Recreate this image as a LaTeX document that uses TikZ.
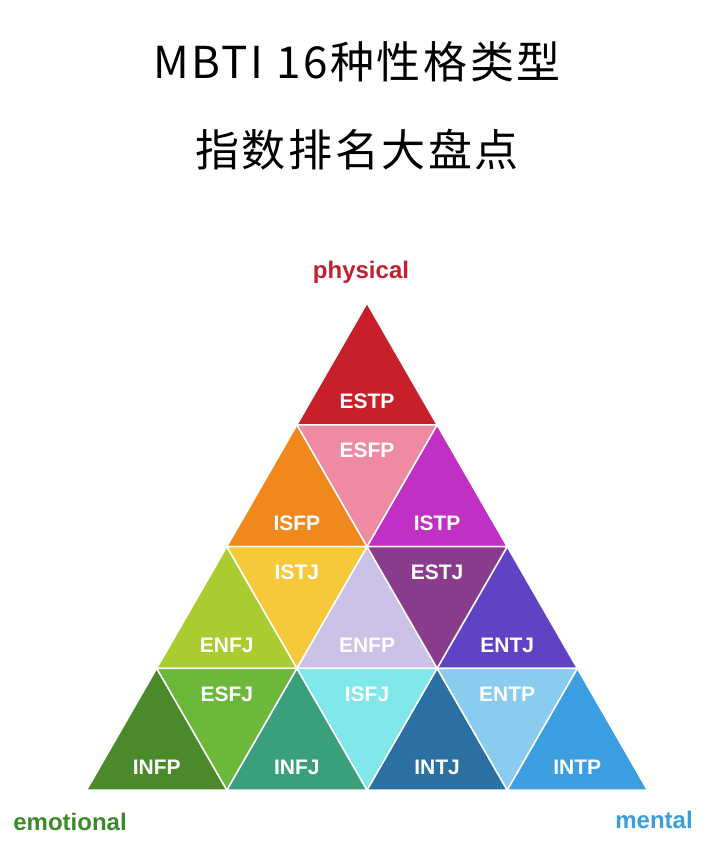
\documentclass[tikz,border=0pt]{standalone}
\usepackage{fontspec}
\setmainfont{Liberation Sans}
\newfontfamily\cjk[LetterSpace=6]{Noto Sans CJK SC}
\usepackage{tikz}
\usetikzlibrary{calc}

\definecolor{cESTP}{HTML}{C8202A}
\definecolor{cESFP}{HTML}{EE8AA2}
\definecolor{cISFP}{HTML}{F0881C}
\definecolor{cISTP}{HTML}{C030C4}
\definecolor{cENFJ}{HTML}{AACC30}
\definecolor{cISTJ}{HTML}{F6C93A}
\definecolor{cENFP}{HTML}{CCC2E8}
\definecolor{cESTJ}{HTML}{8A3C8C}
\definecolor{cENTJ}{HTML}{6042C4}
\definecolor{cINFP}{HTML}{4A8A2A}
\definecolor{cESFJ}{HTML}{6CB83A}
\definecolor{cINFJ}{HTML}{3AA07C}
\definecolor{cISFJ}{HTML}{80E8EA}
\definecolor{cINTJ}{HTML}{2A70A2}
\definecolor{cENTP}{HTML}{8ACCF0}
\definecolor{cINTP}{HTML}{3A9EE0}
\definecolor{cPhys}{HTML}{C02030}
\definecolor{cEmo}{HTML}{3A8A2A}
\definecolor{cMent}{HTML}{3A9ED8}

\begin{document}
\begin{tikzpicture}[x=1pt, y=-1pt,
  cell/.style={draw=white, line width=1.5pt, line join=round},
  tag/.style={text=white, font=\bfseries\fontsize{21}{21}\selectfont},
  corner/.style={font=\bfseries\fontsize{24}{24}\selectfont},
  title/.style={font=\cjk\fontsize{44}{44}\selectfont}
]
  \useasboundingbox (0,0) rectangle (720,853);
  \fill[white] (0,0) rectangle (720,853);

  \node[title] (title1) at (357,62) {MBTI 16种性格类型};
  \node[title] (title2) at (357,150) {指数排名大盘点};

  % grid of vertices
  \foreach \r in {0,...,4}
    \foreach \j in {0,...,\r}
      \coordinate (v-\r-\j) at ({367+(2*\j-\r)*70.1}, {303+\r*121.75});

  % upward cells: row/pos/name
  \foreach \r/\j/\name in {1/0/ESTP, 2/0/ISFP, 2/1/ISTP, 3/0/ENFJ, 3/1/ENFP,
      3/2/ENTJ, 4/0/INFP, 4/1/INFJ, 4/2/INTJ, 4/3/INTP} {
    \pgfmathtruncatemacro\rp{\r-1}
    \pgfmathtruncatemacro\jn{\j+1}
    \filldraw[cell, fill=c\name] (v-\rp-\j) -- (v-\r-\j) -- (v-\r-\jn) -- cycle;
    \node[tag] (t-\name) at ($(v-\r-\j)!0.5!(v-\r-\jn) + (0,-23)$) {\name};
  }
  % downward cells
  \foreach \r/\j/\name in {2/0/ESFP, 3/0/ISTJ, 3/1/ESTJ, 4/0/ESFJ, 4/1/ISFJ,
      4/2/ENTP} {
    \pgfmathtruncatemacro\rp{\r-1}
    \pgfmathtruncatemacro\jn{\j+1}
    \filldraw[cell, fill=c\name] (v-\rp-\j) -- (v-\rp-\jn) -- (v-\r-\jn) -- cycle;
    \node[tag] (t-\name) at ($(v-\rp-\j)!0.5!(v-\rp-\jn) + (0,26)$) {\name};
  }

  \node[corner, text=cPhys] (physical) at (361,272) {physical};
  \node[corner, text=cEmo] (emotional) at (70,822) {emotional};
  \node[corner, text=cMent] (mental) at (654,820) {mental};
\end{tikzpicture}
\end{document}
